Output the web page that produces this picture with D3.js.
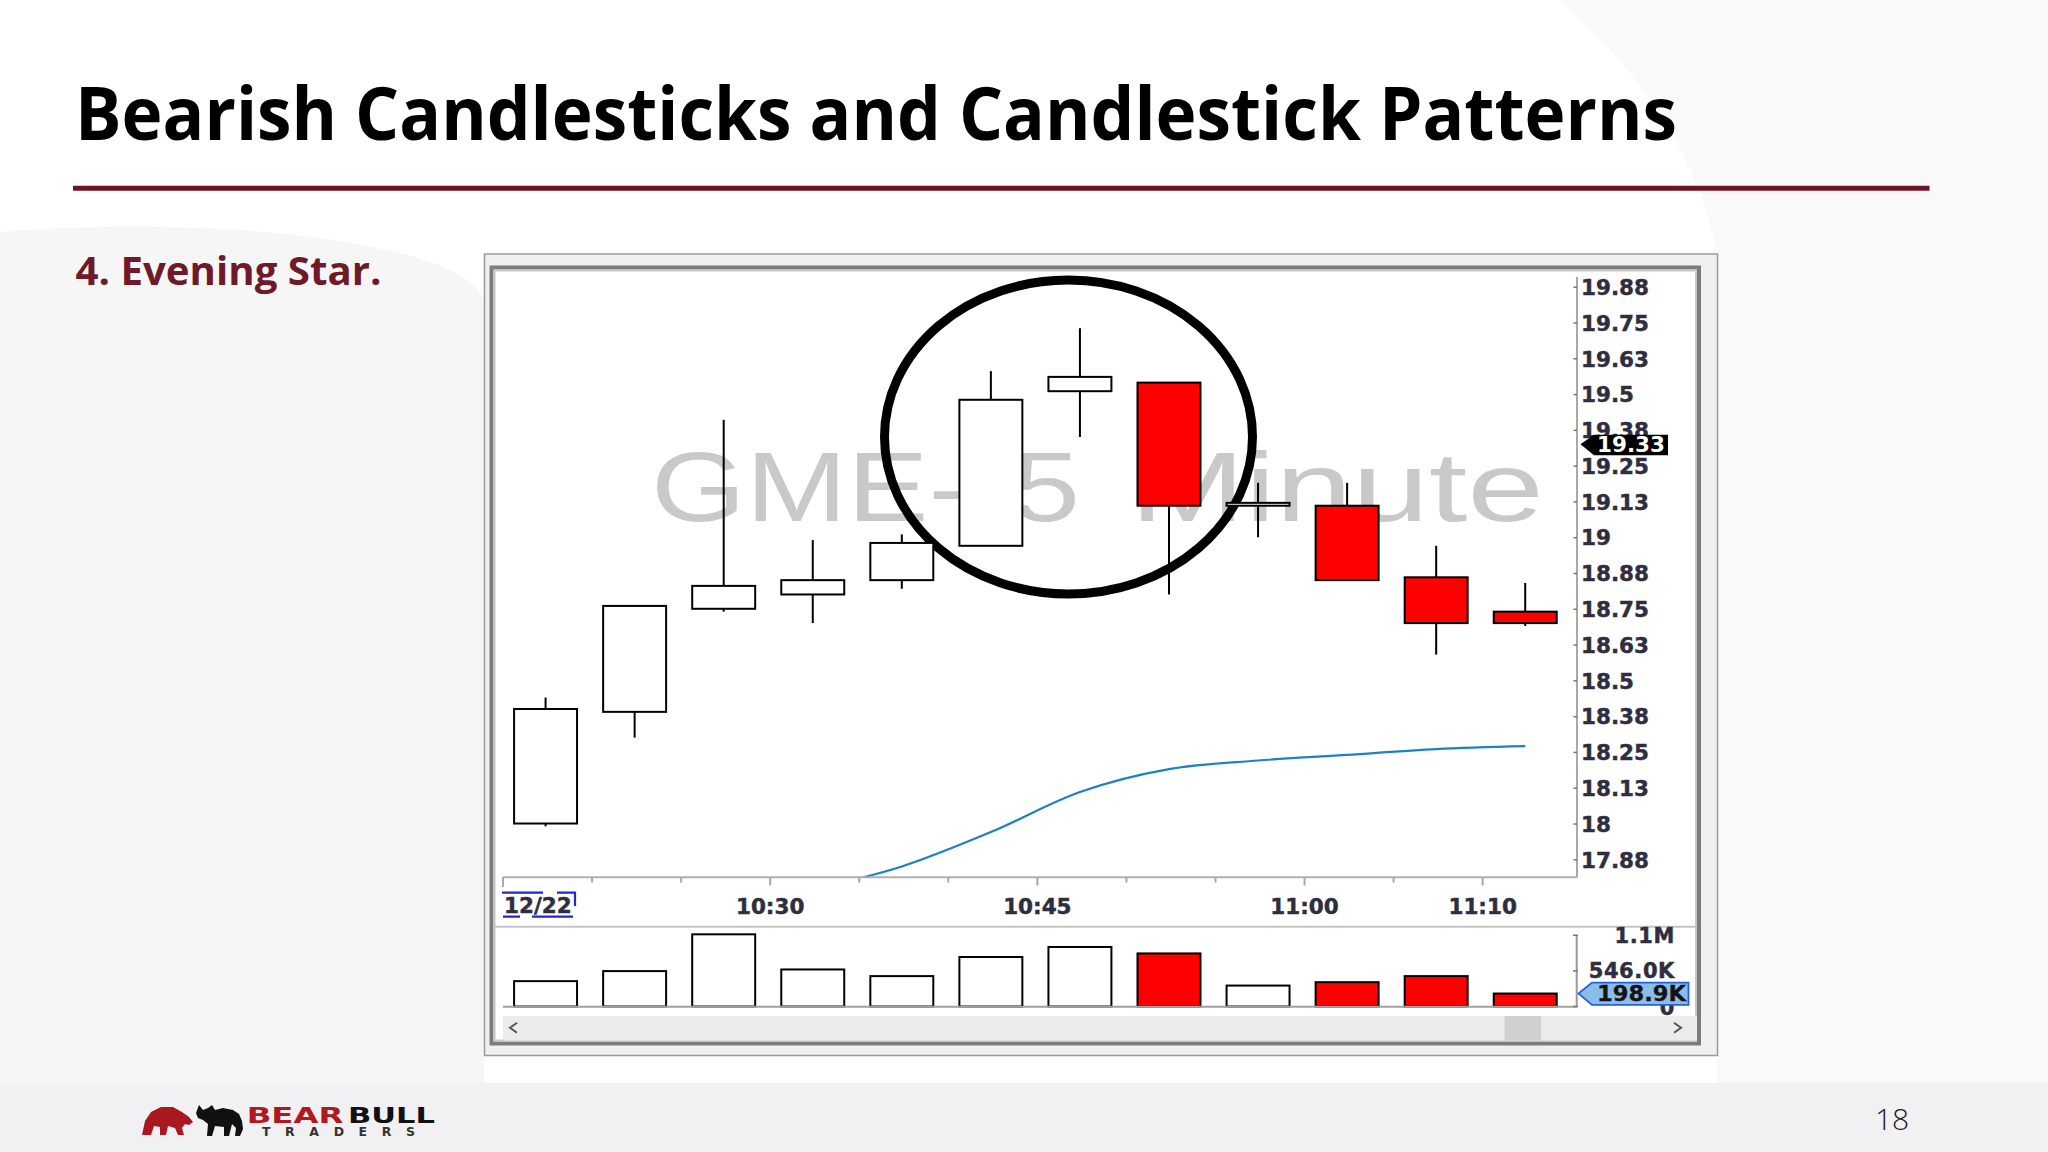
<!DOCTYPE html>
<html><head><meta charset="utf-8">
<script src="https://cdn.jsdelivr.net/npm/d3@7"></script>
<style>html,body{margin:0;padding:0;background:#fff;overflow:hidden}svg{display:block}</style>
</head><body>
<svg id="c" width="2048" height="1152"></svg>
<script>
// ---------------- data ----------------
const times   = ["10:15","10:20","10:25","10:30","10:35","10:40","10:45","10:50","10:55","11:00","11:05","11:10"];
const opens   = [18.00, 18.39, 18.75, 18.80, 18.85, 18.97, 19.51, 19.54, 19.11, 19.11, 18.86, 18.74];
const highs   = [18.44, 18.76, 19.41, 18.99, 19.01, 19.58, 19.73, 19.54, 19.19, 19.19, 18.97, 18.84];
const lows    = [17.99, 18.30, 18.74, 18.70, 18.82, 18.97, 19.35, 18.80, 19.00, 18.85, 18.59, 18.69];
const closes  = [18.40, 18.76, 18.83, 18.85, 18.98, 19.48, 19.56, 19.11, 19.12, 18.85, 18.70, 18.70];
const volumes = [389000, 543000, 1107000, 568000, 466000, 759000, 913000, 814000, 321000, 373000, 466000, 198900];
const avgLine = [null, null, null, 17.77, 17.85, 17.97, 18.11, 18.19, 18.22, 18.24, 18.26, 18.27];

const priceTicks      = [17.875,18,18.125,18.25,18.375,18.5,18.625,18.75,18.875,19,19.125,19.25,19.375,19.5,19.625,19.75,19.875];
const priceTickLabels = ["17.88","18","18.13","18.25","18.38","18.5","18.63","18.75","18.88","19","19.13","19.25","19.38","19.5","19.63","19.75","19.88"];
const volTicks      = [0, 546000, 1092000];
const volTickLabels = ["0", "546.0K", "1.1M"];
const timeLabelTicks = ["10:30","10:45","11:00","11:10"];
const dateLabel = "12/22";
const lastPrice = 19.325, lastPriceLabel = "19.33";
const lastVolumeLabel = "198.9K";

const titleText = "Bearish Candlesticks and Candlestick Patterns";
const subtitleText = "4. Evening Star.";
const watermarkParts = ["GME-", " 5", " Minute"];
const pageNumber = "18";

// ---------------- drawing ----------------
const svg = d3.select("#c");
const W = 2048, H = 1152;
const AX_FONT = "'DejaVu Sans', Verdana, sans-serif";
const AX_COL = "#2e2e40";

svg.append("rect").attr("width", W).attr("height", H).attr("fill", "#ffffff");
// faint background shapes
svg.append("path").attr("d", "M0,232 C140,220 320,226 430,262 C460,272 478,286 484,300 L484,1083 L0,1083 Z").attr("fill", "#f6f6f6");
svg.append("path").attr("d", "M1560,0 L2048,0 L2048,1083 L1717,1083 L1717,254 C1700,160 1640,70 1560,0 Z").attr("fill", "#f9f9f9");
// footer band
svg.append("rect").attr("x", 0).attr("y", 1083).attr("width", W).attr("height", H - 1083).attr("fill", "#f1f0f3");

// title
svg.append("text").attr("x", 75).attr("y", 140)
  .attr("font-family", "'Open Sans', 'Noto Sans', sans-serif").attr("font-weight", 700).attr("font-size", 74)
  .attr("textLength", 1602).attr("lengthAdjust", "spacingAndGlyphs")
  .attr("fill", "#000").text(titleText);
svg.append("line").attr("x1", 73).attr("x2", 1929.5).attr("y1", 188.2).attr("y2", 188.2)
  .attr("stroke", "#6e1423").attr("stroke-width", 5);
svg.append("text").attr("x", 75.5).attr("y", 285)
  .attr("font-family", "'Open Sans', 'Noto Sans', sans-serif").attr("font-weight", 700).attr("font-size", 39.6)
  .attr("textLength", 306).attr("lengthAdjust", "spacingAndGlyphs")
  .attr("fill", "#6e1a28").text(subtitleText);

// page number
svg.append("text").attr("x", 1892).attr("y", 1130).attr("text-anchor", "middle")
  .attr("font-family", "'Open Sans', sans-serif").attr("font-weight", 300).attr("font-size", 30)
  .attr("fill", "#1a1a1a").text(pageNumber);

// logo
const logo = svg.append("g");
logo.append("path").attr("fill", "#a9181f")
  .attr("d", "M142,1135 L145,1121 L151,1112 L161,1107 L173,1107 L182,1112 L189,1117 L193,1122 L189,1125 L185,1124 L182,1128 L184,1135 L178,1135 L175,1128 L168,1126 L166,1135 L160,1135 L160,1127 L154,1126 L151,1135 Z");
logo.append("path").attr("fill", "#111")
  .attr("d", "M196,1113 L199,1105 L203,1110 L208,1108 L212,1105 L215,1110 L223,1108 L233,1110 L239,1114 L242,1121 L243,1129 L240,1136 L235,1136 L236,1128 L232,1124 L229,1136 L224,1136 L224,1127 L215,1126 L212,1136 L207,1136 L208,1124 L203,1120 L198,1118 Z");
logo.append("text").attr("x", 246.7).attr("y", 1123.3)
  .attr("font-family", AX_FONT).attr("font-weight", 800).attr("font-size", 20.5)
  .attr("textLength", 96.6).attr("lengthAdjust", "spacingAndGlyphs").attr("fill", "#b0191f").text("BEAR");
logo.append("text").attr("x", 348).attr("y", 1123.3)
  .attr("font-family", AX_FONT).attr("font-weight", 800).attr("font-size", 20.5)
  .attr("textLength", 87).attr("lengthAdjust", "spacingAndGlyphs").attr("fill", "#111").text("BULL");
logo.append("text").attr("x", 262).attr("y", 1135.7)
  .attr("font-family", AX_FONT).attr("font-weight", 700).attr("font-size", 12.5)
  .attr("textLength", 153).attr("lengthAdjust", "spacing").attr("fill", "#333").text("TRADERS");

// chart frame
svg.append("rect").attr("x", 484.5).attr("y", 254).attr("width", 1233).attr("height", 801.5)
  .attr("fill", "#f0f0f0").attr("stroke", "#9a9a9a").attr("stroke-width", 1.5);
svg.append("rect").attr("x", 491.5).attr("y", 267.5).attr("width", 1207.5).attr("height", 776)
  .attr("fill", "#fff").attr("stroke", "#7c7c7c").attr("stroke-width", 4);
svg.append("rect").attr("x", 494.5).attr("y", 270.5).attr("width", 1201.5).attr("height", 770)
  .attr("fill", "none").attr("stroke", "#c8c8c8").attr("stroke-width", 2);

// scales
const plotL = 503, plotR = 1577, plotT = 277, plotB = 877.3;
const x = d3.scaleBand().domain(times).range([503, 503 + 12 * 89.06]).padding(0);
const bw = x.bandwidth();
const bodyW = bw * 0.707;
const cx = t => x(t) + bw * 0.478;
const y = d3.scaleLinear().domain([17.875, 19.875]).range([859.3, 286.7]);
const yV = d3.scaleLinear().domain([0, 1092000]).range([1006.5, 935.3]);

// watermark (one text, three runs)
const wm = svg.append("text").attr("y", 520.7)
  .attr("font-family", "'Liberation Sans', Arial, sans-serif").attr("font-size", 99)
  .attr("fill", "#c9c9c9").attr("xml:space", "preserve");
const wmX = [651, 1012, 1130], wmL = [318, 68, 414];
watermarkParts.forEach((p, i) => {
  wm.append("tspan").attr("x", wmX[i]).attr("textLength", wmL[i])
    .attr("lengthAdjust", "spacingAndGlyphs").text(p.trim());
});

// average line
svg.append("clipPath").attr("id", "plotclip").append("rect")
  .attr("x", plotL).attr("y", plotT).attr("width", plotR - plotL).attr("height", plotB - plotT);
const line = d3.line().defined(d => d.v != null).x(d => cx(d.t)).y(d => y(d.v)).curve(d3.curveMonotoneX);
svg.append("path").datum(times.map((t, i) => ({t, v: avgLine[i]})))
  .attr("clip-path", "url(#plotclip)")
  .attr("d", line).attr("fill", "none").attr("stroke", "#1f80c4").attr("stroke-width", 2.2);

// ellipse highlight
svg.append("ellipse").attr("cx", 1068.5).attr("cy", 437).attr("rx", 184).attr("ry", 157)
  .attr("fill", "none").attr("stroke", "#000").attr("stroke-width", 9);

// candles
const candles = times.map((t, i) => ({t, o: opens[i], h: highs[i], l: lows[i], c: closes[i], v: volumes[i]}));
const cg = svg.append("g");
cg.selectAll("line.wick").data(candles).join("line").attr("class", "wick")
  .attr("x1", d => cx(d.t)).attr("x2", d => cx(d.t))
  .attr("y1", d => y(d.h)).attr("y2", d => y(d.l))
  .attr("stroke", "#000").attr("stroke-width", 2);
cg.selectAll("rect.body").data(candles).join("rect").attr("class", "body")
  .attr("x", d => cx(d.t) - bodyW / 2).attr("width", bodyW)
  .attr("y", d => y(Math.max(d.o, d.c)))
  .attr("height", d => Math.max(2, y(Math.min(d.o, d.c)) - y(Math.max(d.o, d.c))))
  .attr("fill", d => d.c >= d.o ? "#ffffff" : "#ff0000")
  .attr("stroke", "#000").attr("stroke-width", 2);

// label style helper
const axText = (sel, size) => sel.attr("font-family", AX_FONT).attr("font-weight", 700)
  .attr("font-size", size).attr("fill", AX_COL)
  .attr("stroke", AX_COL).attr("stroke-width", 0.45);

// x axis
svg.append("line").attr("x1", plotL).attr("x2", plotR).attr("y1", plotB).attr("y2", plotB)
  .attr("stroke", "#b0b0b0").attr("stroke-width", 2);
svg.append("g").selectAll("line").data(times).join("line")
  .attr("x1", d => x(d)).attr("x2", d => x(d))
  .attr("y1", plotB).attr("y2", (d, i) => i === 0 ? 887 : (timeLabelTicks.includes(d) ? 885.5 : 882.5))
  .attr("stroke", "#a8a8a8").attr("stroke-width", 2);
svg.append("g").selectAll("text").data(timeLabelTicks).join("text")
  .attr("x", d => x(d)).attr("y", 913.5).attr("text-anchor", "middle")
  .call(axText, 21.5).text(d => d);
svg.append("path").attr("d", "M502,892.7 H543 M557,892.7 H575 V906 M573,916.7 H532 M520,916.7 H503")
  .attr("fill", "none").attr("stroke", "#2424d8").attr("stroke-width", 2.2);
svg.append("text").attr("x", 504).attr("y", 913)
  .call(axText, 21.5).text(dateLabel);

// price axis
svg.append("line").attr("x1", plotR).attr("x2", plotR).attr("y1", plotT).attr("y2", plotB)
  .attr("stroke", "#a8a8a8").attr("stroke-width", 2);
const pAxis = svg.append("g").attr("transform", `translate(${plotR},0)`)
  .call(d3.axisRight(y).tickValues(priceTicks).tickFormat((d, i) => priceTickLabels[i])
    .tickSizeInner(-3.5).tickSizeOuter(0).tickPadding(4));
pAxis.select(".domain").remove();
pAxis.selectAll(".tick line").attr("stroke", "#777").attr("stroke-width", 1.5);
pAxis.selectAll(".tick text").call(axText, 21.5).attr("dy", "0.36em");

// last price marker
const lp = y(lastPrice);
svg.append("path").attr("d", `M1580.5,${lp} L1594,${lp - 9.5} H1668 V${lp + 11} H1594 Z`).attr("fill", "#000");
svg.append("text").attr("x", 1597).attr("y", lp + 7.8)
  .attr("font-family", AX_FONT).attr("font-weight", 700).attr("font-size", 21.5)
  .attr("textLength", 68).attr("lengthAdjust", "spacingAndGlyphs")
  .attr("fill", "#fff").text(lastPriceLabel);

// volume panel
svg.append("line").attr("x1", 495).attr("x2", 1697).attr("y1", 926.7).attr("y2", 926.7)
  .attr("stroke", "#c4c4c4").attr("stroke-width", 2);
svg.append("g").selectAll("rect").data(candles).join("rect")
  .attr("x", d => cx(d.t) - bodyW / 2).attr("width", bodyW)
  .attr("y", d => yV(d.v)).attr("height", d => yV(0) - yV(d.v))
  .attr("fill", d => d.c >= d.o ? "#ffffff" : "#ff0000")
  .attr("stroke", "#000").attr("stroke-width", 2);
svg.append("line").attr("x1", plotL).attr("x2", plotR).attr("y1", yV(0) + 0.3).attr("y2", yV(0) + 0.3)
  .attr("stroke", "#a0a0a0").attr("stroke-width", 2);
svg.append("line").attr("x1", 1576.7).attr("x2", 1576.7).attr("y1", yV(volTicks[2])).attr("y2", yV(0) + 0.3)
  .attr("stroke", "#999").attr("stroke-width", 2);
svg.append("g").selectAll("line").data(volTicks).join("line")
  .attr("x1", 1573).attr("x2", 1578).attr("y1", d => yV(d)).attr("y2", d => yV(d))
  .attr("stroke", "#777").attr("stroke-width", 1.5);
svg.append("g").selectAll("text").data(volTicks).join("text")
  .attr("x", 1675).attr("y", (d, i) => yV(d) + (i === 0 ? 8.5 : 7.2)).attr("text-anchor", "end")
  .call(axText, 21).attr("letter-spacing", 0.6).text((d, i) => volTickLabels[i]);

// last volume marker
const lv = yV(volumes[volumes.length - 1]);
svg.append("path").attr("d", `M1578.5,${lv} L1592,${lv - 11} H1688.5 V${lv + 11.3} H1592 Z`)
  .attr("fill", "#8cbde9").attr("stroke", "#2160e0").attr("stroke-width", 1.8);
svg.append("text").attr("x", 1597).attr("y", lv + 7.8)
  .attr("font-family", AX_FONT).attr("font-weight", 700).attr("font-size", 21.5)
  .attr("textLength", 89).attr("lengthAdjust", "spacingAndGlyphs")
  .attr("fill", "#141414").attr("stroke", "#141414").attr("stroke-width", 0.3).text(lastVolumeLabel);

// scrollbar
svg.append("rect").attr("x", 503).attr("y", 1016).attr("width", 1194).attr("height", 24.5).attr("fill", "#ececec");
svg.append("rect").attr("x", 1504.5).attr("y", 1016).attr("width", 36.5).attr("height", 24.5).attr("fill", "#d0d0d0");
svg.append("path").attr("d", "M517,1022.7 L510,1027.7 L517,1032.7 M1674,1022.7 L1681,1027.7 L1674,1032.7")
  .attr("fill", "none").attr("stroke", "#555").attr("stroke-width", 2);
</script>
</body></html>
